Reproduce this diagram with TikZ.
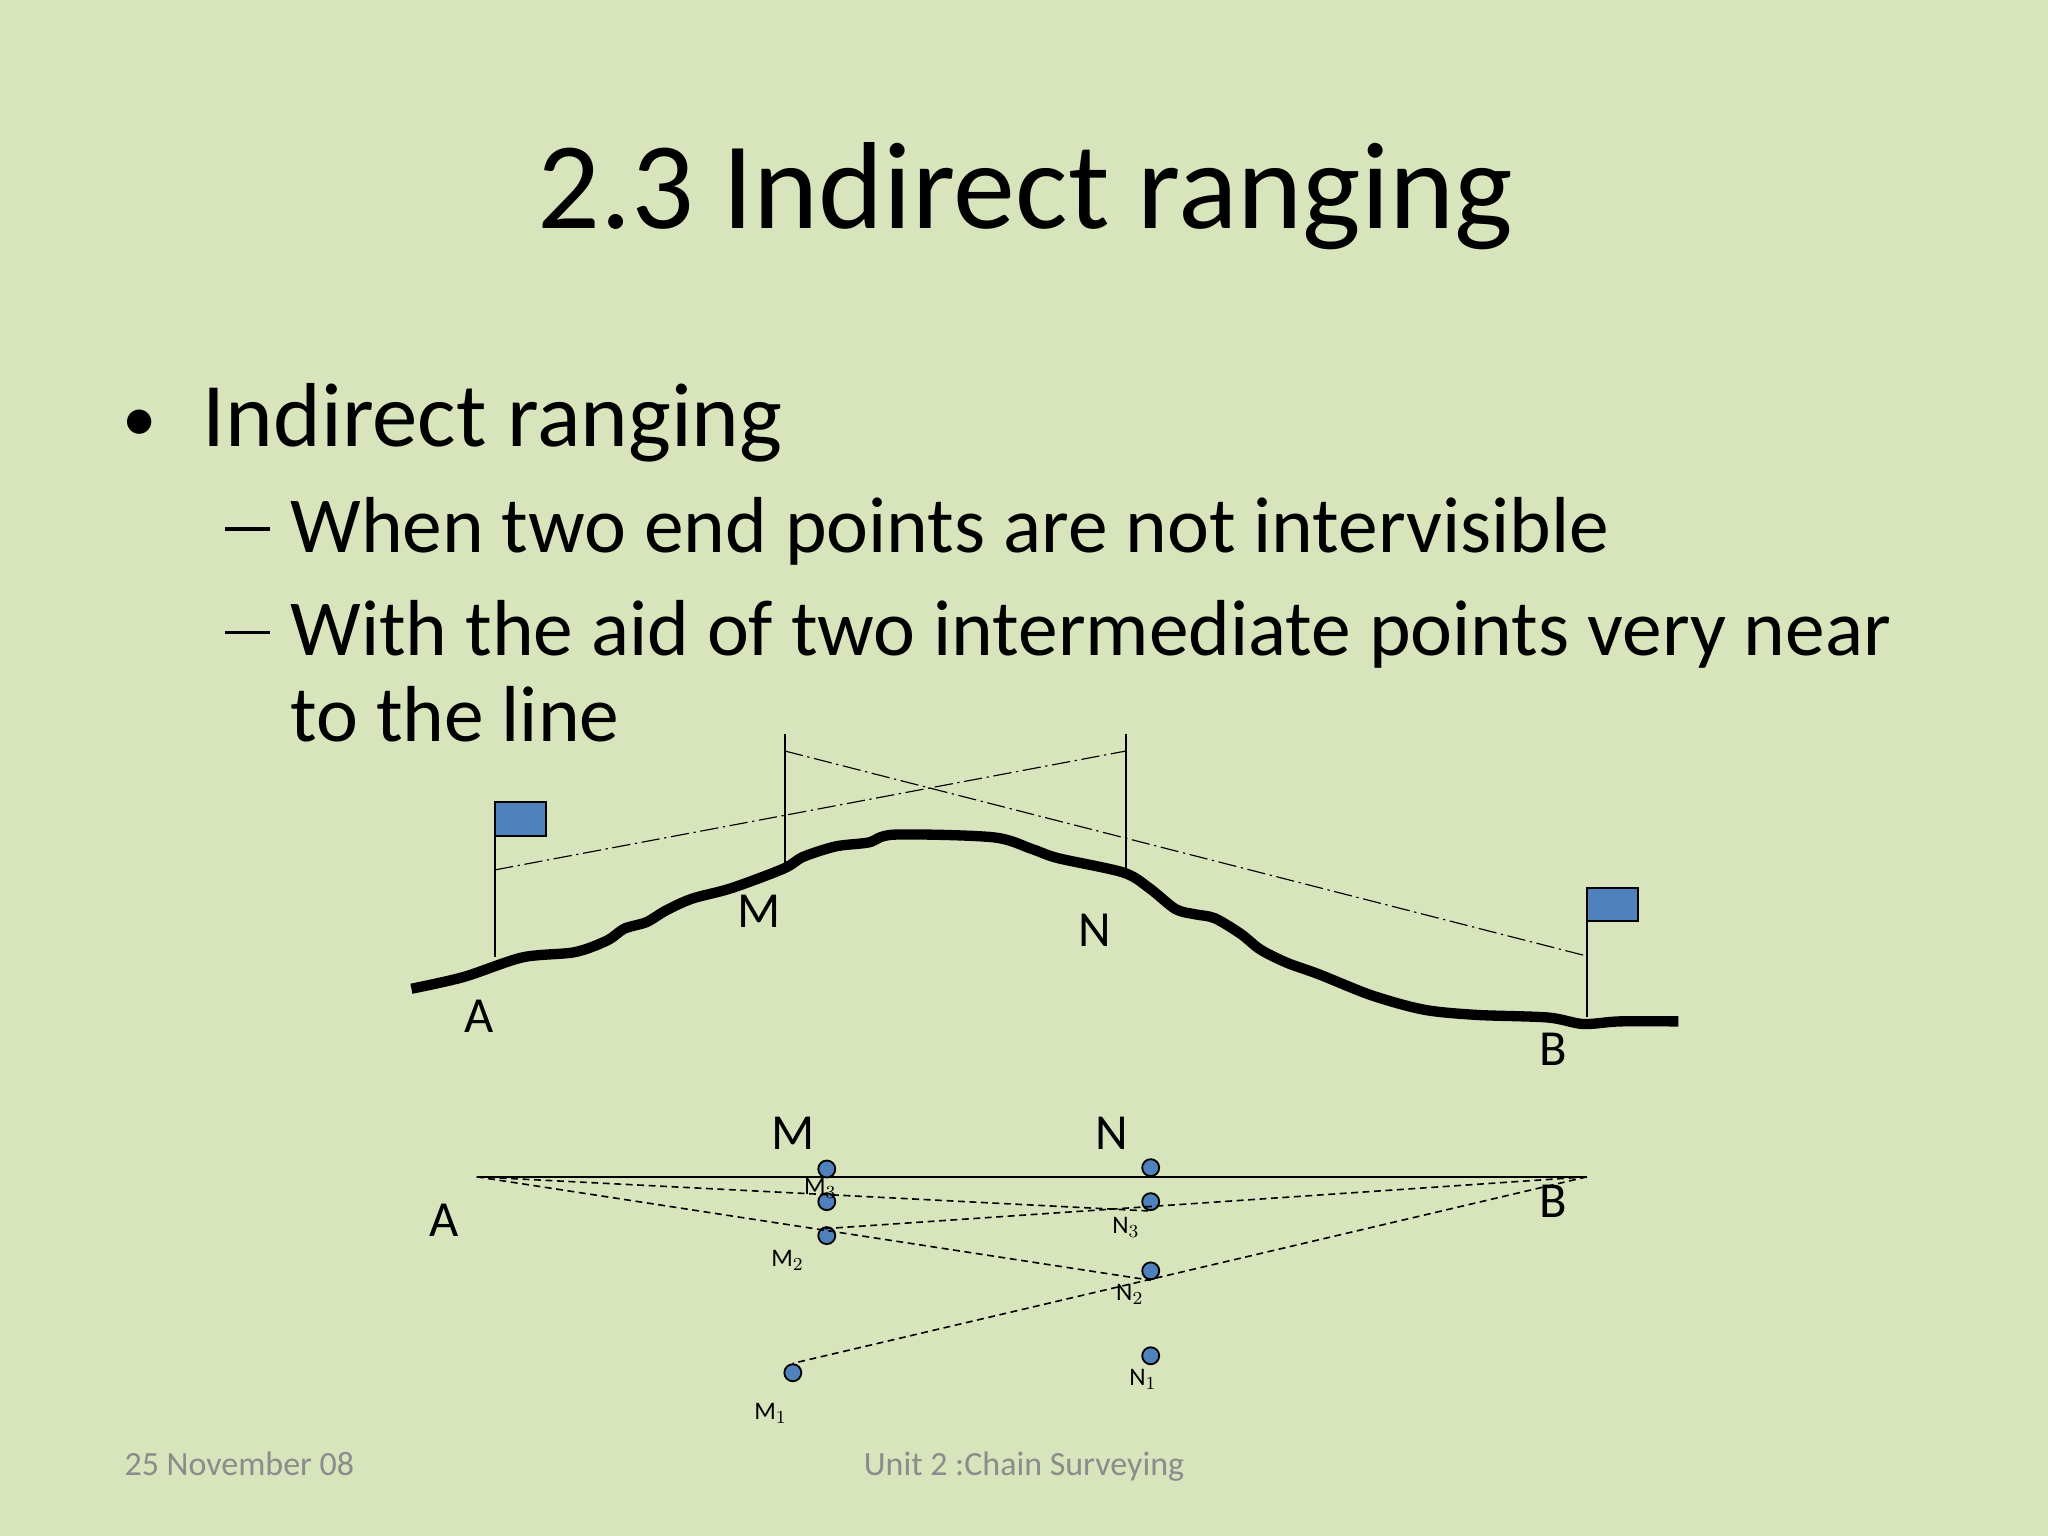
\documentclass[tikz,border=0pt]{standalone}
\usepackage{fontspec}
\setmainfont{Carlito}
\begin{document}
\begin{tikzpicture}[x=0.02cm,y=-0.02cm,
  lbl/.style={font=\fontsize{22}{24}\selectfont},
  sm/.style={font=\fontsize{11}{12}\selectfont},
  dot/.style={circle,draw=black,fill=flagblue,inner sep=0pt,minimum size=0.26cm,line width=0.8pt},
  flag/.style={draw=black,fill=flagblue,line width=0.6pt},
  pole/.style={line width=0.6pt},
  dashmark/.style={line width=1.4pt},
  dd/.style={dash pattern=on 8pt off 2pt on 1pt off 2pt,line width=0.5pt},
  ds/.style={dashed,line width=0.7pt,dash pattern=on 3pt off 2pt}]
\definecolor{bg}{HTML}{D8E4BC}
\definecolor{flagblue}{HTML}{4F81BD}
\fill[bg] (0,0) rectangle (1568,1176);
\useasboundingbox (0,0) rectangle (1568,1176);
\node[font=\fontsize{54}{60}\selectfont] (title) at (785,150) {2.3 Indirect ranging};
\node[anchor=base,font=\fontsize{30}{34}\selectfont] (b1) at (107,338) {•};
\node[anchor=base west,inner sep=0pt,font=\fontsize{39.6}{44}\selectfont] (t1) at (155,342) {Indirect ranging};
\coordinate (d1a) at (172,405); \coordinate (d1b) at (207,405);
\draw[dashmark] (d1a) -- (d1b);
\node[anchor=base west,inner sep=0pt,font=\fontsize{34.6}{38}\selectfont] (t2) at (222,423) {When two end points are not intervisible};
\coordinate (d2a) at (172,484); \coordinate (d2b) at (207,484);
\draw[dashmark] (d2a) -- (d2b);
\node[anchor=base west,inner sep=0pt,font=\fontsize{34.6}{38}\selectfont] (t3) at (222,502) {With the aid of two intermediate points very near};
\node[anchor=base west,inner sep=0pt,font=\fontsize{34.6}{38}\selectfont] (t4) at (222,568) {to the line};
% terrain
\draw[line width=4.5pt,line join=round] plot[smooth,tension=0.5] coordinates {(315,757)(355,748)(400,733)(440,729)(465,720)(478,711)(495,706)(510,697)(530,688)(560,680)(600,665)(615,656)(640,648)(665,645)(685,639)(760,641)(790,650)(810,657)(860,668)(880,680)(900,696)(915,700)(930,703)(950,715)(965,727)(985,737)(1010,746)(1050,762)(1090,773)(1130,777)(1185,779)(1212,784)(1240,782)(1285,782)};
\coordinate (pa0) at (379,733); \coordinate (pa1) at (379,614);
\coordinate (pb0) at (1215,779); \coordinate (pb1) at (1215,680);
\coordinate (pm0) at (601,665); \coordinate (pm1) at (601,562);
\coordinate (pn0) at (862,668); \coordinate (pn1) at (862,562);
\draw[pole] (pa0) -- (pa1); \draw[pole] (pb0) -- (pb1);
\draw[pole] (pm0) -- (pm1); \draw[pole] (pn0) -- (pn1);
\draw[flag] (379,614) rectangle (418,640);
\draw[flag] (1215,680) rectangle (1254,705);
\coordinate (la) at (379,666); \coordinate (ln) at (862,575);
\coordinate (lm) at (601,575); \coordinate (lb) at (1215,732);
\draw[dd] (la) -- (ln);
\draw[dd] (lm) -- (lb);
\node[lbl] (A1) at (367,778) {A};
\node[lbl] (M1l) at (581,698) {M};
\node[lbl] (N1l) at (838,712) {N};
\node[lbl] (B1) at (1189,803) {B};
% plan
\coordinate (A) at (365,901); \coordinate (B) at (1215,901);
\draw[line width=0.7pt] (A) -- (B);
\node[dot] (M) at (633,895) {};
\node[dot] (M3) at (633,920) {};
\node[dot] (M2) at (633,946) {};
\node[dot] (M1) at (607,1051) {};
\node[dot] (N) at (881,894) {};
\node[dot] (N3) at (881,920) {};
\node[dot] (N2) at (881,973) {};
\node[dot] (N1) at (881,1038) {};
\draw[ds] (A) -- (N3.south);
\draw[ds] (B) -- (M2.north west);
\draw[ds] (A) -- (N2.south);
\draw[ds] (B) -- (M1.north);
\node[lbl] (ML) at (607,868) {M};
\node[lbl] (NL) at (851,868) {N};
\node[lbl] (AL) at (340,934) {A};
\node[lbl] (BL) at (1189,920) {B};
\node[sm] (m3l) at (628,910) {M$_3$};
\node[sm] (n3l) at (862,940) {N$_3$};
\node[sm] (m2l) at (603,965) {M$_2$};
\node[sm] (n2l) at (865,991) {N$_2$};
\node[sm] (m1l) at (590,1082) {M$_1$};
\node[sm] (n1l) at (875,1056) {N$_1$};
\node[anchor=base west,inner sep=0pt,text=black!45,font=\fontsize{14.8}{16}\selectfont] (f1) at (95,1130) {25 November 08};
\node[anchor=base,inner sep=0pt,text=black!45,font=\fontsize{14.8}{16}\selectfont] (f2) at (784,1130) {Unit 2 :Chain Surveying};
\end{tikzpicture}
\end{document}
